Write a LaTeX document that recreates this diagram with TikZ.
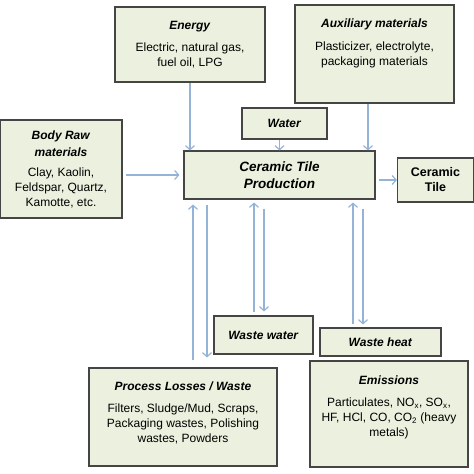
\documentclass[tikz,border=0pt]{standalone}
\usepackage{fontspec}
\setmainfont{Liberation Sans}
\usetikzlibrary{arrows.meta}
\definecolor{boxfill}{HTML}{EBF1DE}
\definecolor{boxline}{HTML}{454545}
\definecolor{flowblue}{HTML}{95B3D7}
\newcommand{\hd}[1]{\textbf{\textit{#1}}}

\begin{document}
\begin{tikzpicture}[x=1pt, y=-1pt,
    box/.style={rectangle, draw=boxline, fill=boxfill, line width=1.1pt,
      align=center, inner sep=2pt, font=\fontsize{12}{15}\selectfont},
    flowline/.style={draw=flowblue, line width=1.2pt,
      -{Straight Barb[length=4pt,width=9pt]}}]
    \useasboundingbox (0,0) rectangle (474,474);
    \node[box, minimum width=150, minimum height=75] (energy) at (190,44.5)
      {\hd{Energy}\\[7pt] Electric, natural gas,\\ fuel oil, LPG};
    \node[box, minimum width=159, minimum height=98] (aux) at (374.5,54)
      {\hd{Auxiliary materials}\\[8pt] Plasticizer, electrolyte,\\ packaging materials\\[9pt]\mbox{}};
    \node[box, minimum width=85, minimum height=31] (water) at (284.5,123.5) {\hd{Water}};
    \node[box, minimum width=122, minimum height=98] (raw) at (61,169)
      {\hd{Body Raw}\\[2pt] \hd{materials}\\[5pt] Clay, Kaolin,\\ Feldspar, Quartz,\\ Kamotte, etc.};
    \node[box, minimum width=191, minimum height=48, font=\fontsize{13.5}{17}\selectfont] (prod) at (279.5,175)
      {\hd{Ceramic Tile}\\ \hd{Production}};
    \node[box, minimum width=76, minimum height=44, font=\fontsize{12.5}{15}\selectfont] (tile) at (435.5,180)
      {\textbf{Ceramic}\\ \textbf{Tile}};
    \node[box, minimum width=99, minimum height=38] (wwater) at (263.5,335) {\hd{Waste water}};
    \node[box, minimum width=121, minimum height=28] (wheat) at (380.5,342) {\hd{Waste heat}};
    \node[box, minimum width=188, minimum height=98] (losses) at (183,417)
      {\hd{Process Losses / Waste}\\[7pt] Filters, Sludge/Mud, Scraps,\\ Packaging wastes, Polishing\\ wastes, Powders\\[-6pt]\mbox{}};
    \node[box, minimum width=158, minimum height=106] (emis) at (389,414)
      {\hd{Emissions}\\[7pt] Particulates, NO\textsubscript{x}, SO\textsubscript{x},\\ HF, HCl, CO, CO\textsubscript{2} (heavy\\ metals)\\[1pt]\mbox{}};
    % inputs
    \draw[flowline] (energy.south) -- (energy.south |- prod.north);
    \draw[flowline] (water.south -| prod.north) -- (prod.north);
    \draw[flowline] (aux.south -| 368,0) -- (prod.north -| 368,0);
    \draw[flowline, shorten <=3pt, shorten >=4pt] (raw.east |- prod.west) -- (prod.west);
    \draw[flowline, shorten <=3pt] (prod.east |- tile.west) -- (tile.west);
    % outputs and returns
    \draw[flowline, shorten <=7pt, shorten >=5pt] (losses.north -| 193,0) -- (prod.south -| 193,0);
    \draw[flowline, shorten <=5pt, shorten >=10pt] (prod.south -| 207,0) -- (losses.north -| 207,0);
    \draw[flowline, shorten <=3pt, shorten >=3pt] (wwater.north -| 254,0) -- (prod.south -| 254,0);
    \draw[flowline, shorten <=9pt, shorten >=4pt] (prod.south -| 264,0) -- (wwater.north -| 264,0);
    \draw[flowline, shorten <=3pt, shorten >=3pt] (wheat.north -| 353,0) -- (prod.south -| 353,0);
    \draw[flowline, shorten <=9pt, shorten >=3pt] (prod.south -| 363,0) -- (wheat.north -| 363,0);
\end{tikzpicture}
\end{document}
